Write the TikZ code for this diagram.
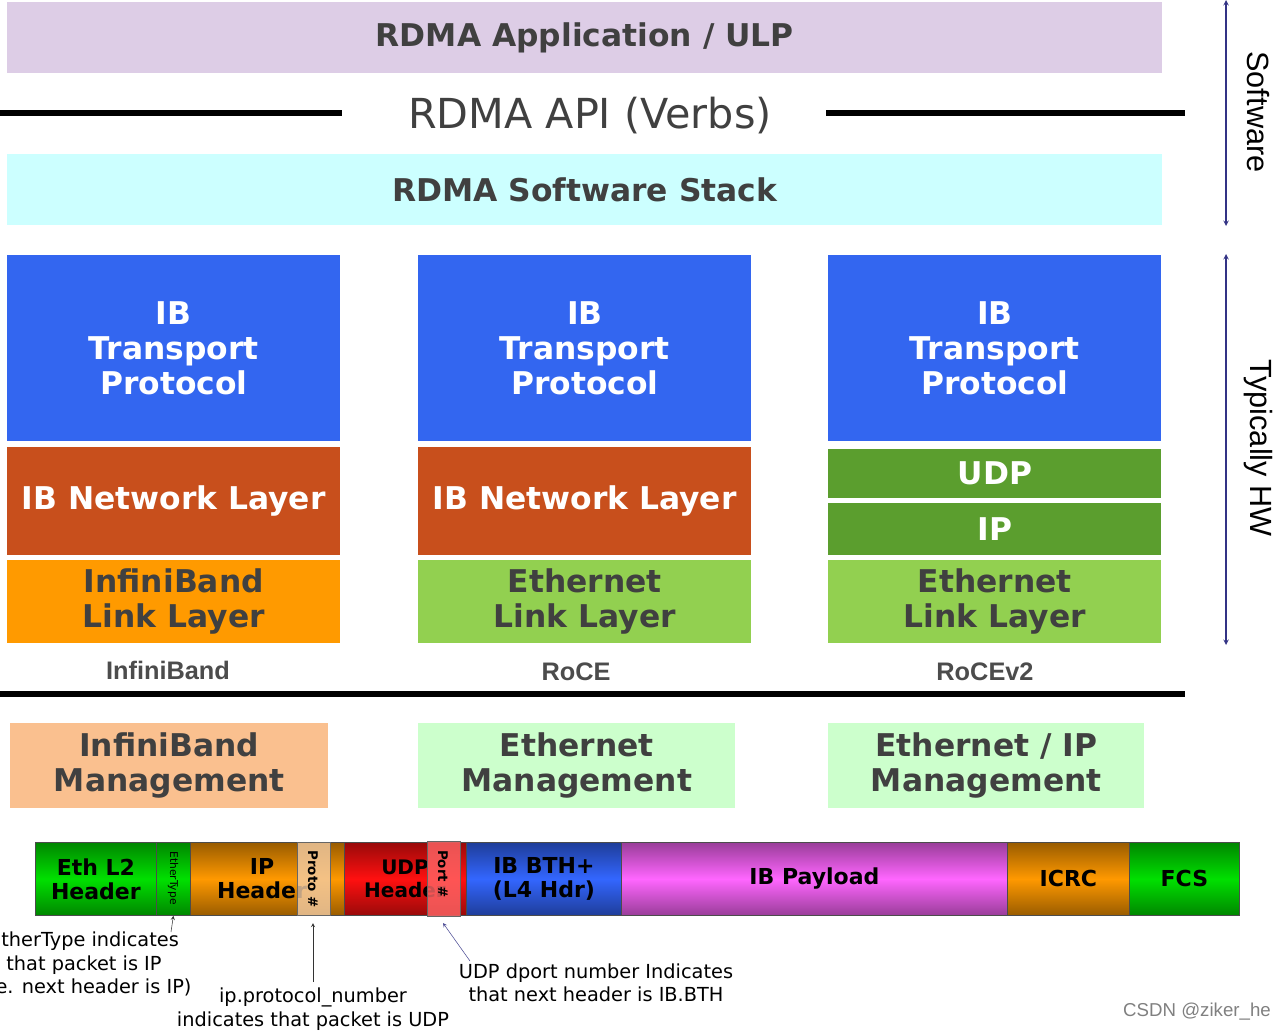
\documentclass[tikz,border=0pt]{standalone}
\usepackage{fontspec}
\setmainfont{DejaVu Sans}
\newfontfamily\arialf{Liberation Sans}
\begin{document}
\begin{tikzpicture}[x=0.75pt,y=-0.75pt,
  wh/.style 2 args={minimum width=0.75pt*#1,minimum height=0.75pt*#2},
  box/.style={draw=none,anchor=north west,inner sep=0,align=center,font=\bfseries\fontsize{23.5}{26}\selectfont},
  gtxt/.style={text=black!75},
  seg/.style={draw=black!70,line width=0.6pt,anchor=north west,inner sep=0,align=center,font=\bfseries\fontsize{16.5}{18}\selectfont},
  sh/.style={top color=#1!60!black,bottom color=#1!60!black,middle color=#1},
  note/.style={font=\fontsize{14.5}{17.5}\selectfont,align=center,inner sep=0},
  thick/.style={line width=5pt},
  side/.style={draw=blue!40!black!80,line width=0.8pt,<->,>=stealth}]
\useasboundingbox (0,0) rectangle (1274,1032);
\definecolor{lav}{HTML}{DDCDE6}
\definecolor{cy}{HTML}{CCFFFF}
\definecolor{ibb}{HTML}{3366F0}
\definecolor{net}{HTML}{C84F1C}
\definecolor{iblink}{HTML}{FF9A00}
\definecolor{ethlink}{HTML}{92D050}
\definecolor{dg}{HTML}{5B9E2E}
\definecolor{mib}{HTML}{FAC08F}
\definecolor{meth}{HTML}{CCFFCC}
\definecolor{gr}{HTML}{00E000}\definecolor{orr}{HTML}{FF9900}\definecolor{rd}{HTML}{FF1010}
\definecolor{bl}{HTML}{3366FF}\definecolor{mg}{HTML}{FF66FF}
% top
\node[box,fill=lav,gtxt,wh={1155}{71}] (app) at (7,2) {RDMA Application / ULP};
\coordinate (l1a) at (0,113); \coordinate (l1b) at (342,113);
\coordinate (l2a) at (826,113); \coordinate (l2b) at (1185,113);
\draw[thick] (l1a) -- (l1b); \draw[thick] (l2a) -- (l2b);
\node[font=\fontsize{31}{34}\selectfont,text=black!75] (api) at (590,116) {RDMA API (Verbs)};
\node[box,fill=cy,gtxt,wh={1155}{71}] (sw) at (7,154) {RDMA Software Stack};
% columns
\foreach \x/\n in {7/a,418/b,828/c}{
  \node[box,fill=ibb,text=white,wh={333}{186}] (tp\n) at (\x,255) {IB\\Transport\\Protocol};
}
\node[box,fill=net,text=white,wh={333}{108}] (na) at (7,447) {IB Network Layer};
\node[box,fill=net,text=white,wh={333}{108}] (nb) at (418,447) {IB Network Layer};
\node[box,fill=dg,text=white,wh={333}{49}] (udp) at (828,449) {UDP};
\node[box,fill=dg,text=white,wh={333}{52}] (ip) at (828,503) {IP};
\node[box,fill=iblink,gtxt,wh={333}{83}] (la) at (7,560) {InfiniBand\\Link Layer};
\node[box,fill=ethlink,gtxt,wh={333}{83}] (lb) at (418,560) {Ethernet\\Link Layer};
\node[box,fill=ethlink,gtxt,wh={333}{83}] (lc) at (828,560) {Ethernet\\Link Layer};
\node[font=\arialf\bfseries\fontsize{19}{20}\selectfont,text=black!70] (ta) at (168,670) {InfiniBand};
\node[font=\arialf\bfseries\fontsize{19}{20}\selectfont,text=black!70] (tb) at (576,672) {RoCE};
\node[font=\arialf\bfseries\fontsize{19}{20}\selectfont,text=black!70] (tc) at (985,672) {RoCEv2};
\coordinate (l3a) at (0,694); \coordinate (l3b) at (1185,694);
\draw[thick] (l3a) -- (l3b);
\node[box,fill=mib,gtxt,wh={318}{85}] (ma) at (10,723) {InfiniBand\\Management};
\node[box,fill=meth,gtxt,wh={317}{85}] (mb) at (418,723) {Ethernet\\Management};
\node[box,fill=meth,gtxt,wh={316}{85}] (mc) at (828,723) {Ethernet / IP\\Management};
% side arrows
\coordinate (s1) at (1226,0); \coordinate (s2) at (1226,226);
\coordinate (s3) at (1226,254); \coordinate (s4) at (1226,645);
\draw[side] (s1) -- (s2); \draw[side] (s3) -- (s4);
\node[rotate=-90,font=\arialf\fontsize{23}{24}\selectfont] (swl) at (1258,112) {Software};
\node[rotate=-90,font=\arialf\fontsize{23}{24}\selectfont] (hwl) at (1258,448) {Typically HW};
% packet
\node[seg,sh=gr,wh={121}{73}] (eth) at (35,842) {Eth L2\\Header};
\node[seg,sh=gr,wh={34}{73}] (et) at (156,842) {};
\node[rotate=-90,font=\fontsize{8}{9}\selectfont] (etl) at (173,878) {EtherType};
\node[seg,sh=orr,wh={154}{73}] (iph) at (190,842) {};
\node[font=\bfseries\fontsize{16.5}{18}\selectfont,align=center] (ipt) at (262,879) {IP\\Header};
\node[seg,fill=orange!50!brown!40!white,fill opacity=0.8,draw=black!60,wh={33}{73}] (pr) at (297,842) {};
\node[rotate=-90,font=\bfseries\fontsize{10}{11}\selectfont] (prl) at (313,879) {Proto \#};
\node[seg,sh=rd,wh={122}{73}] (udph) at (344,842) {};
\node[font=\bfseries\fontsize{15}{17}\selectfont,align=center] (udpt) at (405,879) {UDP\\Header};
\node[seg,fill=red!60!white,fill opacity=0.8,draw=black!60,wh={33}{75}] (po) at (427,841) {};
\node[rotate=-90,font=\bfseries\fontsize{10}{11}\selectfont] (pol) at (443,874) {Port \#};
\node[seg,sh=bl,wh={155}{73}] (bth) at (466,842) {IB BTH+\\(L4 Hdr)};
\node[seg,sh=mg,wh={386}{73}] (pay) at (621,842) {IB Payload};
\node[seg,sh=orr,wh={122}{73}] (icrc) at (1007,842) {ICRC};
\node[seg,sh=gr,wh={110}{73}] (fcs) at (1129,842) {FCS};
% notes
\node[note] (n1) at (84,964) {EtherType indicates\\that packet is IP\\(i.e. next header is IP)};
\coordinate (a1) at (171,932);
\draw[->,>=stealth,black!80] (a1) -- (et.south);
\node[note] (n2) at (313,1009) {ip.protocol\_number\\indicates that packet is UDP};
\coordinate (a2) at (313,982); \coordinate (a2e) at (313,923);
\draw[->,>=stealth,black!80] (a2) -- (a2e);
\node[note] (n3) at (596,983) {UDP dport number Indicates\\that next header is IB.BTH};
\coordinate (a3) at (470,961); \coordinate (a3e) at (443,923);
\draw[->,>=stealth,blue!40!black!70] (a3) -- (a3e);
\node[font=\arialf\fontsize{14}{15}\selectfont,text=black!50] (csdn) at (1197,1012) {CSDN @ziker\_he};
\end{tikzpicture}
\end{document}
